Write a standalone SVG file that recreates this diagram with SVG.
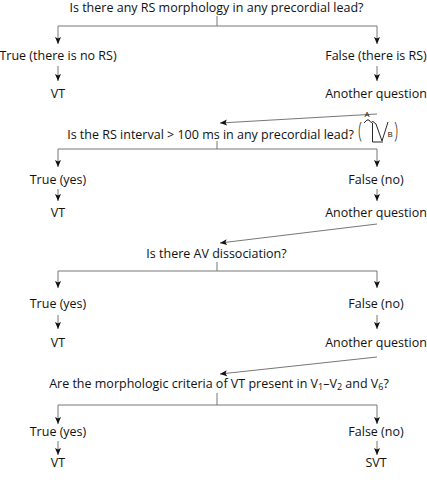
<svg xmlns="http://www.w3.org/2000/svg" width="427" height="482" viewBox="0 0 427 482">
<style>
text{font-family:"Open Sans","Noto Sans","Liberation Sans",sans-serif;font-size:12.5px;fill:#111;text-anchor:middle}
.ln{stroke:#777;stroke-width:1;fill:none}
.ar{stroke:#777;stroke-width:1;fill:none;marker-end:url(#ah)}
.sm{font-size:9px}
.ecg{font-size:8px}
</style>
<defs>
<marker id="ah" markerUnits="userSpaceOnUse" markerWidth="8" markerHeight="8" viewBox="0 0 8 8" refX="7" refY="4" orient="auto">
<path d="M0,1 L7,4 L0,7 L1.5,4 Z" fill="#111"/>
</marker>
</defs>
<rect width="427" height="482" fill="#fff"/>
<g id="connectors">
<path class="ln" d="M217,16V26M58,26H377"/>
<path class="ar" d="M58,26V44"/>
<path class="ar" d="M377,26V44"/>
<path class="ar" d="M58,66V81"/>
<path class="ar" d="M377,66V81"/>
<path class="ar" d="M377,114L220,123"/>
<path class="ln" d="M217,141V149M58,149H377"/>
<path class="ar" d="M58,149V167"/>
<path class="ar" d="M377,149V167"/>
<path class="ar" d="M58,189V201"/>
<path class="ar" d="M377,189V201"/>
<path class="ar" d="M377,224L220,243"/>
<path class="ln" d="M217,262V271M58,271H377"/>
<path class="ar" d="M58,271V288"/>
<path class="ar" d="M377,271V288"/>
<path class="ar" d="M58,315V329"/>
<path class="ar" d="M377,315V329"/>
<path class="ar" d="M377,357L220,374"/>
<path class="ln" d="M217,393V405M58,405H377"/>
<path class="ar" d="M58,405V424"/>
<path class="ar" d="M377,405V424"/>
<path class="ar" d="M58,441V455"/>
<path class="ar" d="M377,441V455"/>
</g>
<g id="q1"><text x="216.5" y="12">Is there any RS morphology in any precordial lead?</text></g>
<g id="t1"><text x="58" y="60">True (there is no RS)</text></g>
<g id="f1"><text x="376" y="60">False (there is RS)</text></g>
<g id="vt1"><text x="58" y="98">VT</text></g>
<g id="aq1"><text x="376" y="98">Another question</text></g>
<g id="q2"><text x="210.5" y="139">Is the RS interval &gt; 100 ms in any precordial lead?</text>
<g id="ecg">
<text x="360" y="138" style="font-size:22px;font-weight:300" transform="translate(360 131) scale(0.6 1) translate(-360 -131)">(</text>
<text x="367" y="117" class="ecg">A</text>
<path d="M364,123 L367,120 L369,120 L371,122.5 L373,121.5 L376,124 L382,141 L388,122" fill="none" stroke="#111" stroke-width="0.9"/>
<path d="M372.5,123 V142 H383" fill="none" stroke="#111" stroke-width="0.9"/>
<text x="390" y="137" class="ecg">B</text>
<text x="396" y="138" style="font-size:22px;font-weight:300" transform="translate(396 131) scale(0.6 1) translate(-396 -131)">)</text>
</g>
</g>
<g id="t2"><text x="58" y="184">True (yes)</text></g>
<g id="f2"><text x="376" y="184">False (no)</text></g>
<g id="vt2"><text x="58" y="217">VT</text></g>
<g id="aq2"><text x="376" y="217">Another question</text></g>
<g id="q3"><text x="216.5" y="258">Is there AV dissociation?</text></g>
<g id="t3"><text x="58" y="308">True (yes)</text></g>
<g id="f3"><text x="376" y="308">False (no)</text></g>
<g id="vt3"><text x="58" y="347">VT</text></g>
<g id="aq3"><text x="376" y="347">Another question</text></g>
<g id="q4"><text x="219" y="388">Are the morphologic criteria of VT present in V<tspan class="sm" dy="2">1</tspan><tspan dy="-2">–V</tspan><tspan class="sm" dy="2">2</tspan><tspan dy="-2"> and V</tspan><tspan class="sm" dy="2">6</tspan><tspan dy="-2">?</tspan></text></g>
<g id="t4"><text x="58" y="436">True (yes)</text></g>
<g id="f4"><text x="376" y="436">False (no)</text></g>
<g id="vt4"><text x="58" y="467">VT</text></g>
<g id="svt"><text x="376" y="467">SVT</text></g>
</svg>
